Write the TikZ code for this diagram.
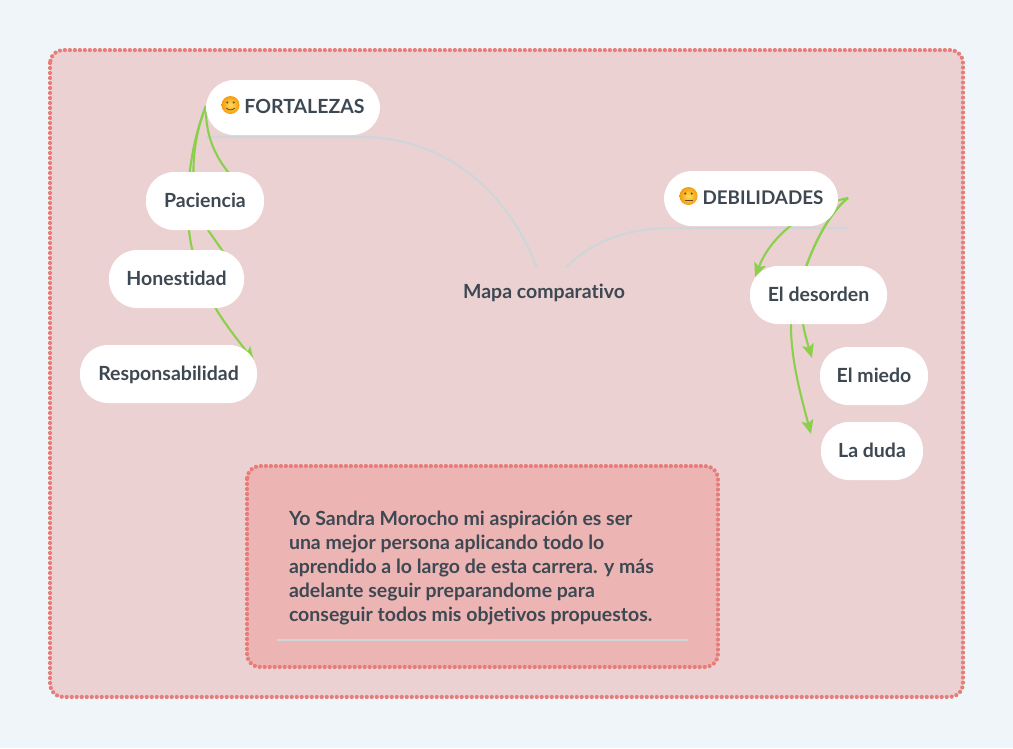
\documentclass[tikz,border=0pt]{standalone}
\usepackage{fontspec}
\setmainfont{Lato}[Ligatures=CommonOff]
\usetikzlibrary{arrows.meta}
\definecolor{pagebg}{HTML}{EFF5F8}
\definecolor{outerfill}{HTML}{ECD1D2}
\definecolor{innerfill}{HTML}{ECB5B4}
\definecolor{dotred}{HTML}{E87C78}
\definecolor{inkc}{HTML}{3D4852}
\definecolor{linkgray}{HTML}{CFD6D9}
\definecolor{linkgreen}{HTML}{8BD04C}
\definecolor{faceA}{HTML}{FFDD55}
\definecolor{faceB}{HTML}{F39C12}
\definecolor{faceC}{HTML}{6B4A1E}
\tikzset{
  x=1pt,y=-1pt,
  every node/.style={font=\bfseries\fontsize{19.5}{24}\selectfont,text=inkc,inner sep=0pt,outer sep=0pt},
  pill/.style={fill=white,rounded corners=28pt,minimum height=58pt,text height=16pt,text depth=4pt},
  dotbox/.style={fill=#1,draw=dotred,line width=4.2pt,line cap=round,dash pattern=on 0pt off 5pt,rounded corners=13pt},
  graylink/.style={draw=linkgray,line width=2.2pt},
  greenlink/.style={draw=linkgreen,line width=2.1pt},
  greenarrow/.style={greenlink,-{Stealth[length=14pt,width=12pt,inset=3pt]}},
}
\newcommand{\facebase}[1]{\shade[inner color=faceA,outer color=faceB] (#1) circle[radius=9pt];}
\begin{document}
\begin{tikzpicture}
\useasboundingbox (0,0) rectangle (1013,748);
\fill[pagebg] (0,0) rectangle (1013,748);
\path[dotbox=outerfill] (50,50) rectangle (963,697);
\path[dotbox=innerfill] (247,466) rectangle (718,667);

\node (mapa) at (544,293) {Mapa comparativo};
\coordinate (fortfoot) at (206,137);
\coordinate (debfoot) at (848,228);
\coordinate (mapaL) at (537,268);
\coordinate (mapaR) at (565,268);
\coordinate (fortw) at (206,106);
\coordinate (debe) at (848,198);
\coordinate (rule1) at (277,640);
\coordinate (rule2) at (688,640);
\coordinate (tipA) at (254,361);
\coordinate (tipB) at (240,272);
\coordinate (tipC) at (245,190);
\coordinate (tipD) at (755,277);
\coordinate (tipE) at (811,434);
\coordinate (tipF) at (812,358);
\coordinate (hubR) at (805,270);

\draw[graylink] (mapaL) .. controls (505,185) and (440,137) .. (360,137) -- (fortfoot);
\draw[graylink] (mapaR) .. controls (590,243) and (625,228) .. (670,228) -- (debfoot);
\draw[linkgray,line width=1.6pt] (rule1) -- (rule2);

\draw[greenarrow] (fortw) .. controls (186,155) and (182,225) .. (196,262) .. controls (205,300) and (230,330) .. (tipA);
\draw[greenarrow] (fortw) .. controls (188,150) and (190,205) .. (208,230) .. controls (215,240) and (225,255) .. (tipB);
\draw[greenarrow] (fortw) .. controls (205,135) and (215,160) .. (tipC);
\draw[greenarrow] (debe) .. controls (825,202) and (775,225) .. (tipD);
\draw[greenarrow] (debe) .. controls (832,210) and (815,240) .. (hubR) .. controls (795,290) and (791,310) .. (791,330) .. controls (792,365) and (802,400) .. (tipE);
\draw[greenarrow] (debe) .. controls (832,210) and (815,240) .. (hubR) .. controls (800,295) and (801,315) .. (803,324) .. controls (805,335) and (808,345) .. (tipF);

\node[pill,minimum width=174pt,minimum height=55pt] (fort) at (293,107.5) {\hspace{23pt}FORTALEZAS};
\node[pill,minimum width=118pt] (pac) at (205,201) {Paciencia};
\node[pill,minimum width=135pt] (hon) at (176.5,279) {Honestidad};
\node[pill,minimum width=177pt] (res) at (168.5,374) {Responsabilidad};
\node[pill,minimum width=174pt,minimum height=55pt,font=\bfseries\fontsize{18.8}{24}\selectfont] (deb) at (751,198.5) {\hspace{24pt}DEBILIDADES};
\node[pill,minimum width=137pt] (des) at (818.5,295) {El desorden};
\node[pill,minimum width=108pt] (miedo) at (874,376) {El miedo};
\node[pill,minimum width=102pt] (duda) at (872,451) {La duda};
\node[anchor=north west,align=left] (msg) at (289,511.5) {Yo Sandra Morocho mi aspiración es ser\\una mejor persona aplicando todo lo\\aprendido a lo largo de esta carrera. y más\\adelante seguir preparandome para\\conseguir todos mis objetivos propuestos.};

% emoji faces
\facebase{230.5,105}
\fill[faceC] (227.3,102.5) circle[radius=1.1pt] (233.7,102.5) circle[radius=1.1pt];
\draw[faceC,line width=0.8pt] (226.3,108) .. controls (228.5,110.5) and (232.5,110.5) .. (234.7,108);
\facebase{688.5,196}
\fill[faceC] (685.3,193.5) circle[radius=1.2pt] (691.7,193.5) circle[radius=1.2pt];
\draw[faceC,line width=1pt] (684.5,200) -- (692.5,200);
\end{tikzpicture}
\end{document}
